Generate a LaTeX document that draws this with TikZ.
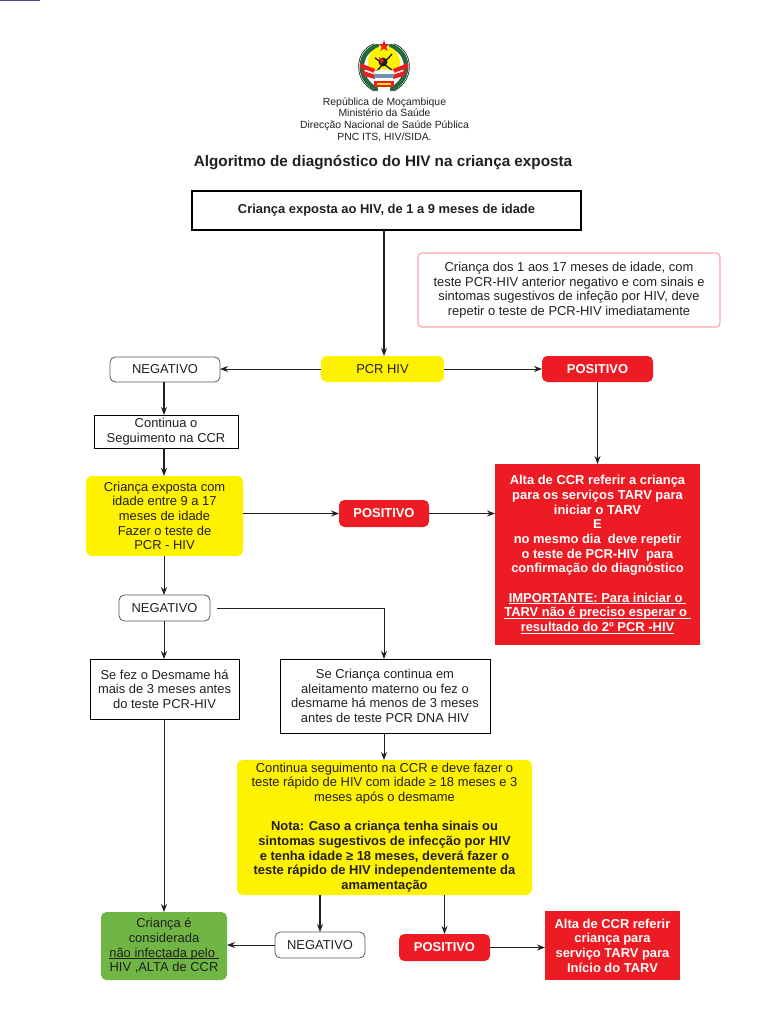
\documentclass[tikz,border=0pt]{standalone}
\usepackage{fontspec}
\setmainfont{Liberation Sans}
\usetikzlibrary{arrows.meta,shapes.geometric}
\definecolor{ry}{HTML}{FFF200}
\definecolor{rr}{HTML}{ED1C24}
\definecolor{rg}{HTML}{6FB644}
\definecolor{rp}{HTML}{F7A8AE}
\definecolor{rt}{HTML}{231F20}
\definecolor{rv}{HTML}{5B3FA8}
\definecolor{wreath}{HTML}{1F6B3A}
\definecolor{bookb}{HTML}{6F8FB0}
\newcommand{\boxat}[6]{\node[#1,minimum width=#4*0.75pt-#2*0.75pt,minimum height=#5*0.75pt-#3*0.75pt] at ({(#2+#4)/2},{(#3+#5)/2}) #6}
\newcommand{\ulin}[1]{\setbox0\hbox{#1}\rlap{\rule[-1.4pt]{\wd0}{0.55pt}}\box0}
\tikzset{
  x=0.75pt,y=-0.75pt,
  base/.style={inner sep=0pt,outer sep=0pt,align=center,text=rt,font=\fontsize{9.7}{11}\selectfont},
  plainbox/.style={base,draw=black,line width=0.75pt},
  titlebox/.style={base,draw=black,line width=1.1pt,font=\fontsize{9.7}{11}\selectfont\bfseries},
  notebox/.style={base,draw=rp,line width=0.9pt,rounded corners=3pt},
  yellowbox/.style={base,fill=ry,rounded corners=4pt},
  whitebox/.style={base,draw=black!65,line width=0.6pt,rounded corners=4pt},
  redpill/.style={base,fill=rr,rounded corners=4pt,text=white,font=\fontsize{9.7}{11}\selectfont\bfseries},
  redbox/.style={base,fill=rr,text=white,font=\fontsize{9.7}{11}\selectfont\bfseries},
  greenbox/.style={base,fill=rg,rounded corners=4pt},
  link/.style={draw=rt,line width=0.7pt,-{Stealth[length=6pt,width=4.5pt]}},
  boldlink/.style={draw=rt,line width=1.3pt,-{Stealth[length=6pt,width=4.5pt]}},
  caption/.style={inner sep=0pt,align=center,text=rt,font=\fontsize{7.8}{8.8}\selectfont},
  heading/.style={inner sep=0pt,text=rt,font=\fontsize{11.45}{13}\selectfont\bfseries},
}
\begin{document}
\begin{tikzpicture}
\useasboundingbox (0,0) rectangle (768,1024);
% top-left remnant
\fill[rv] (0,0) rectangle (40,1);
% emblem
\draw[wreath,line width=3.4pt,line cap=round] (377,46) .. controls (358,52) and (356,78) .. (376,89);
\draw[wreath,line width=3.4pt,line cap=round] (391,46) .. controls (410,52) and (412,78) .. (392,89);
\draw[rt,line width=0.5pt] (374,44) .. controls (355,50) and (352,80) .. (374,91);
\draw[rt,line width=0.5pt] (394,44) .. controls (413,50) and (416,80) .. (394,91);
\fill[ry] (384,62) circle [radius=16];
\fill[rr] (384,40) -- (385.4,44.2) -- (389.7,44.2) -- (386.2,46.8) -- (387.5,51) -- (384,48.4) -- (380.5,51) -- (381.8,46.8) -- (378.3,44.2) -- (382.6,44.2) -- cycle;
\fill[rr] (360,63) -- (375,69) -- (375,73) -- (360,68) -- cycle;
\fill[rr] (361,70) -- (375,75) -- (375,79) -- (364,76) -- cycle;
\fill[rr] (408,63) -- (393,69) -- (393,73) -- (408,68) -- cycle;
\fill[rr] (407,70) -- (393,75) -- (393,79) -- (404,76) -- cycle;
\fill[rt] (383,62) circle [radius=4.5];
\draw[rt,line width=1pt] (375,58) -- (392,70);
\draw[rt,line width=1pt] (392,54) -- (376,72);
\fill[rr] (379,57) -- (384,60) -- (381,64) -- cycle;
\fill[white] (374,71) -- (384,69) -- (394,71) -- (394,74) -- (374,74) -- cycle;
\fill[bookb] (374,74) rectangle (394,78);
\fill[rr] (374,81) rectangle (394,87);
\fill[ry] (377,83) rectangle (391,85);
% texts
\node[caption] (cap) at (384.5,119.5) {República de Moçambique\\Ministério da Saúde\\Direcção Nacional de Saúde Pública\\PNC ITS, HIV/SIDA.};
\node[heading] (head) at (383,162.5) {Algoritmo de diagnóstico do HIV na criança exposta};
% nodes
\boxat{titlebox}{192}{191}{581}{230}{(top) {Criança exposta ao HIV, de 1 a 9 meses de idade};}
\boxat{notebox}{418}{253}{720}{327}{(note) {Criança dos 1 aos 17 meses de idade, com\\teste PCR-HIV anterior negativo e com sinais e\\sintomas sugestivos de infeção por HIV, deve\\repetir o teste de PCR-HIV imediatamente};}
\boxat{yellowbox}{321}{356}{444}{382}{(pcr) {PCR HIV};}
\boxat{whitebox}{110}{357}{220}{382}{(nega) {NEGATIVO};}
\boxat{redpill}{542}{356}{653}{382}{(posa) {POSITIVO};}
\boxat{plainbox}{94}{415}{238}{448}{(cont) {Continua o\\Seguimento na CCR};}
\boxat{yellowbox}{86}{476}{243}{556}{(exp) {Criança exposta com\\idade entre 9 a 17\\meses de idade\\Fazer o teste de\\PCR - HIV};}
\boxat{redpill}{339}{500}{429}{527}{(posb) {POSITIVO};}
\boxat{redbox}{495}{464}{700}{645}{(alta) {Alta de CCR referir a criança\\para os serviços TARV para\\iniciar o TARV\\E\\no mesmo dia\ \ deve repetir\\o teste de PCR-HIV\ \ para\\confirmação do diagnóstico\\[11pt]\ulin{IMPORTANTE: Para iniciar o\ }\\\ulin{TARV não é preciso esperar o\ }\\\ulin{resultado do 2º PCR -HIV}};}
\boxat{whitebox}{119}{595}{210}{621}{(negb) {NEGATIVO};}
\boxat{plainbox}{90}{659}{239}{719}{(desm) {Se fez o Desmame há\\mais de 3 meses antes\\do teste PCR-HIV};}
\boxat{plainbox}{280}{659}{490}{733}{(alei) {Se Criança continua em\\aleitamento materno ou fez o\\desmame há menos de 3 meses\\antes de teste PCR DNA HIV};}
\boxat{yellowbox}{237}{760}{532}{895}{(seg) {Continua seguimento na CCR e deve fazer o\\teste rápido de HIV com idade ≥ 18 meses e 3\\meses após o desmame\\[11pt]\textbf{Nota: Caso a criança tenha sinais ou}\\\textbf{sintomas sugestivos de infecção por HIV}\\\textbf{e tenha idade ≥ 18 meses, deverá fazer o}\\\textbf{teste rápido de HIV independentemente da}\\\textbf{amamentação}};}
\boxat{greenbox}{101}{912}{227}{980}{(nao) {Criança é\\considerada\\\ulin{não infectada pelo\ }\\HIV ,ALTA de CCR};}
\boxat{whitebox}{275}{932}{365}{958}{(negc) {NEGATIVO};}
\boxat{redpill}{399}{934}{490}{961}{(posc) {POSITIVO};}
\boxat{redbox}{545}{911}{680}{980}{(altb) {Alta de CCR referir\\criança para\\serviço TARV para\\Início do TARV};}
% connectors
\coordinate (cm) at (384,369);
\coordinate (cl) at (164,369);
\draw[boldlink] (top.south -| cm) -- (pcr.north -| cm);
\draw[link] (pcr.west |- cm) -- (nega.east |- cm);
\draw[link] (pcr.east |- cm) -- (posa.west |- cm);
\draw[boldlink] (posa.south) -- (alta.north -| posa.south);
\draw[boldlink] (nega.south -| cl) -- (cont.north -| cl);
\draw[boldlink] (cont.south -| cl) -- (exp.north -| cl);
\draw[link] (exp.east |- posb.west) -- (posb.west);
\draw[link] (posb.east) -- (alta.west |- posb.east);
\draw[link] (exp.south -| cl) -- (negb.north -| cl);
\draw[link] (negb.south -| cl) -- (desm.north -| cl);
\coordinate (nb) at (217,608);
\draw[link] (nb) -- (cm |- nb) -- (cm |- alei.north);
\draw[link] (alei.south -| cm) -- (seg.north -| cm);
\draw[link] (desm.south -| cl) -- (nao.north -| cl);
\draw[boldlink] (seg.south -| negc.north) -- (negc.north);
\draw[link] (seg.south -| posc.north) -- (posc.north);
\draw[link] (negc.west) -- (nao.east |- negc.west);
\draw[boldlink] (posc.east) -- (altb.west |- posc.east);
\end{tikzpicture}
\end{document}
